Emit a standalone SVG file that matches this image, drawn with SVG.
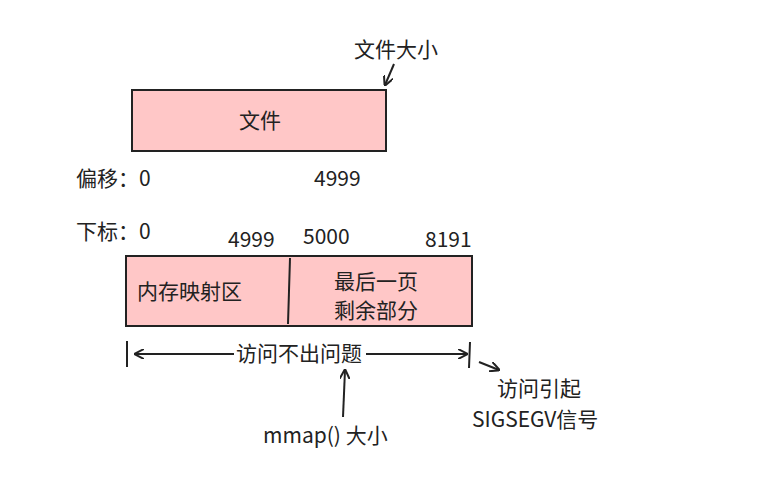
<svg xmlns="http://www.w3.org/2000/svg" width="762" height="481" viewBox="0 0 762 481">
<defs>
<marker id="a" viewBox="0 0 10 10" refX="9" refY="5" markerWidth="10" markerHeight="10" orient="auto-start-reverse" markerUnits="userSpaceOnUse"><path d="M0,0 L10,5 L0,10" fill="none" stroke="#222" stroke-width="2"/></marker>
</defs>
<style>
text{font-family:"Noto Sans CJK SC","Liberation Sans",sans-serif;font-size:21px;fill:#222}
.box{fill:#ffc7c7;stroke:#222;stroke-width:2}
.ln{stroke:#222;stroke-width:2;fill:none}
</style>
<rect width="762" height="481" fill="#fff"/>
<g id="file"><rect class="box" x="132" y="90" width="254" height="61"/><text x="260" y="128" text-anchor="middle">文件</text></g>
<g id="mmap"><rect class="box" x="126" y="256" width="346" height="70"/><text x="137" y="299">内存映射区</text><text x="376" y="289" text-anchor="middle">最后一页</text><text x="376" y="318" text-anchor="middle">剩余部分</text></g>
<g id="labels">
<text x="354" y="57">文件大小</text>
<text x="76" y="186">偏移：0</text>
<text x="314" y="186">4999</text>
<text x="76" y="239">下标：0</text>
<text x="228" y="247">4999</text>
<text x="303" y="244">5000</text>
<text x="425" y="247">8191</text>
<text x="236" y="361">访问不出问题</text>
<text x="263" y="443">mmap() 大小</text>
<text x="497" y="396">访问引起</text>
<text x="472" y="427">SIGSEGV信号</text>
</g>
<g id="connectors">
<path class="ln" d="M290,258 L288,324"/>
<path class="ln" d="M394,64 L385,85" marker-end="url(#a)"/>
<path class="ln" d="M127,341 L127,367 M470,342 L469,368"/>
<path class="ln" d="M234,354 L135,354" marker-end="url(#a)"/>
<path class="ln" d="M366,354 L467,354" marker-end="url(#a)"/>
<path class="ln" d="M343,417 L345,370" marker-end="url(#a)"/>
<path class="ln" d="M479,362 L499,370" marker-end="url(#a)"/>
</g>
</svg>
